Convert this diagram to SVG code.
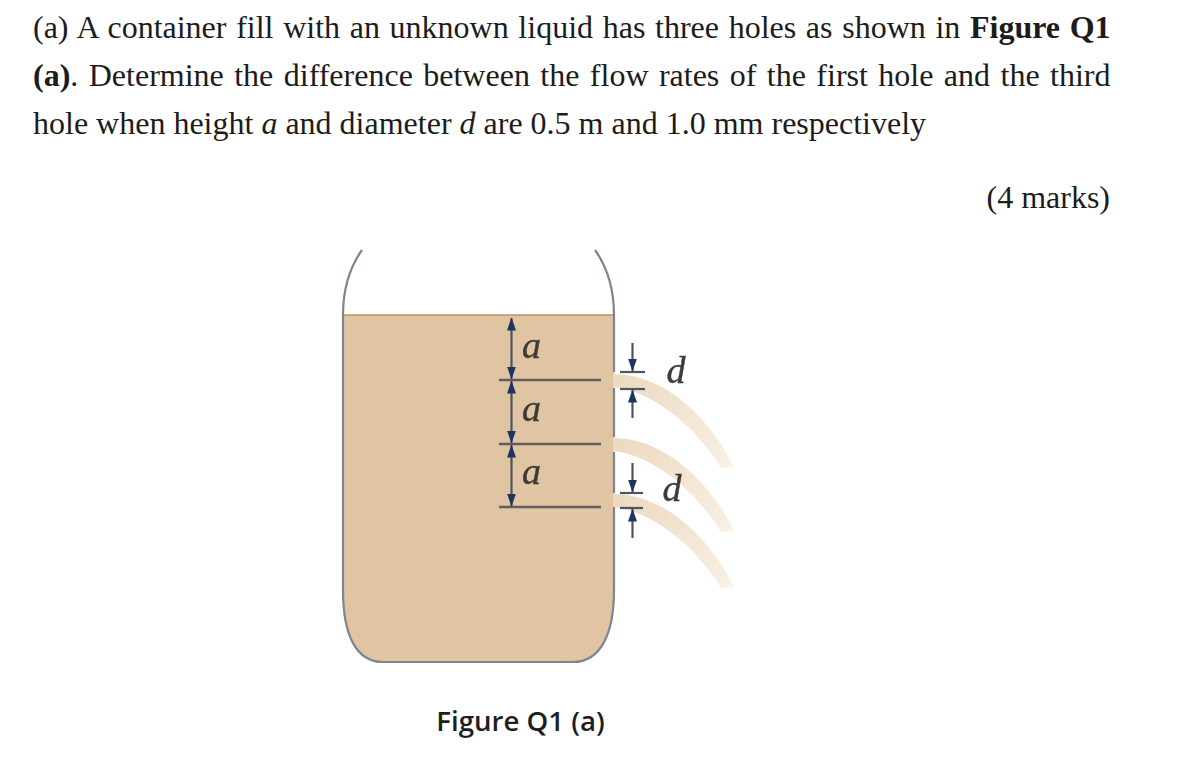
<svg xmlns="http://www.w3.org/2000/svg" width="1200" height="784" viewBox="0 0 1200 784">
<style>
.t{font-family:"Liberation Serif","Times New Roman",serif;font-size:32px;fill:#1c1c1c}
.b{font-weight:bold}
.i{font-style:italic}
.v{font-family:"Liberation Serif",serif;font-style:italic;font-size:38px;fill:#3d3a38;stroke:#3d3a38;stroke-width:0.4}
.cap{font-family:"Open Sans","Noto Sans",sans-serif;font-weight:600;font-size:27.6px;fill:#1e1e1e}
.wall{fill:none;stroke:#7d8590;stroke-width:2.2}
.dim{fill:none;stroke:#4d5560;stroke-width:2.2}
.hl{fill:none;stroke:#5f5f62;stroke-width:2.6}
.jet{fill:url(#jetg)}
</style>
<defs>
<filter id="soft" x="-5%" y="-5%" width="110%" height="110%"><feGaussianBlur stdDeviation="0.6"/></filter>
<linearGradient id="jetg" x1="0" y1="0" x2="1" y2="1">
<stop offset="0" stop-color="#ecd8bf"/><stop offset="0.55" stop-color="#f3e6d5"/><stop offset="1" stop-color="#f9f1e7"/>
</linearGradient>
<marker id="ah" markerWidth="13" markerHeight="9" refX="12.5" refY="4.5" orient="auto" markerUnits="userSpaceOnUse" viewBox="0 0 13 9">
<path d="M0 0L13 4.5L0 9Z" fill="#1f3560"/>
</marker>
<marker id="ahs" markerWidth="13" markerHeight="9" refX="0.5" refY="4.5" orient="auto" markerUnits="userSpaceOnUse" viewBox="0 0 13 9">
<path d="M13 0L0 4.5L13 9Z" fill="#1f3560"/>
</marker>
<path id="jet" d="M613 374C665 374 710 418 734 467L721 468C695 425 650 390 613 387Z"/>
</defs>

<g id="question">
<text class="t" x="33" y="38" word-spacing="1.67">(a) A container fill with an unknown liquid has three holes as shown in <tspan class="b">Figure Q1</tspan></text>
<text class="t" x="33" y="86" word-spacing="2.43"><tspan class="b">(a)</tspan>. Determine the difference between the flow rates of the first hole and the third</text>
<text class="t" x="33" y="134">hole when height <tspan class="i">a</tspan> and diameter <tspan class="i">d</tspan> are 0.5 m and 1.0 mm respectively</text>
<text class="t" x="1110" y="208" text-anchor="end">(4 marks)</text>
</g>

<g id="figure" filter="url(#soft)">
<g id="liquid">
<path d="M343 315H614V590C614 635 600 662 573 662H383C356 662 343 635 343 590Z" fill="#e1c5a3"/>
<line x1="343" y1="315" x2="614" y2="315" stroke="#b79366" stroke-width="1.6"/>
</g>

<g id="jets">
<use href="#jet" class="jet"/>
<use href="#jet" class="jet" y="64"/>
<use href="#jet" class="jet" y="120"/>
</g>

<g id="container">
<path class="wall" d="M362 250C350 267 343 288 343 315V590C343 635 356 662 383 662H573C600 662 614 635 614 590V507"/>
<path class="wall" d="M614 452V493M614 388V437M614 315V372M614 315C614 288 607 267 595 250"/>
</g>

<g id="connectors">
<g id="levels">
<line class="hl" x1="499" y1="380" x2="601" y2="380"/>
<line class="hl" x1="499" y1="444" x2="601" y2="444"/>
<line class="hl" x1="499" y1="507" x2="601" y2="507"/>
</g>
<g id="dim-a">
<line class="dim" x1="511.5" y1="318" x2="511.5" y2="379" marker-start="url(#ahs)" marker-end="url(#ah)"/>
<line class="dim" x1="511.5" y1="381" x2="511.5" y2="443" marker-start="url(#ahs)" marker-end="url(#ah)"/>
<line class="dim" x1="511.5" y1="445" x2="511.5" y2="506" marker-start="url(#ahs)" marker-end="url(#ah)"/>
</g>
<g id="dim-d">
<line class="dim" x1="620" y1="372" x2="645" y2="372"/>
<line class="dim" x1="620" y1="389" x2="645" y2="389"/>
<line class="dim" x1="620" y1="493" x2="643" y2="493"/>
<line class="dim" x1="620" y1="508" x2="643" y2="508"/>
<line class="dim" x1="632.5" y1="343" x2="632.5" y2="371" marker-end="url(#ah)"/>
<line class="dim" x1="632.5" y1="418" x2="632.5" y2="390" marker-end="url(#ah)"/>
<line class="dim" x1="632.5" y1="463" x2="632.5" y2="492" marker-end="url(#ah)"/>
<line class="dim" x1="632.5" y1="538" x2="632.5" y2="509" marker-end="url(#ah)"/>
</g>
</g>

<g id="labels">
<text class="v" x="531.5" y="358" text-anchor="middle">a</text>
<text class="v" x="531.5" y="421" text-anchor="middle">a</text>
<text class="v" x="531.5" y="484" text-anchor="middle">a</text>
<text class="v" x="676" y="383" text-anchor="middle">d</text>
<text class="v" x="672" y="501" text-anchor="middle">d</text>
</g>
</g>

<text id="caption" class="cap" x="520.5" y="731" text-anchor="middle">Figure Q1 (a)</text>
</svg>
